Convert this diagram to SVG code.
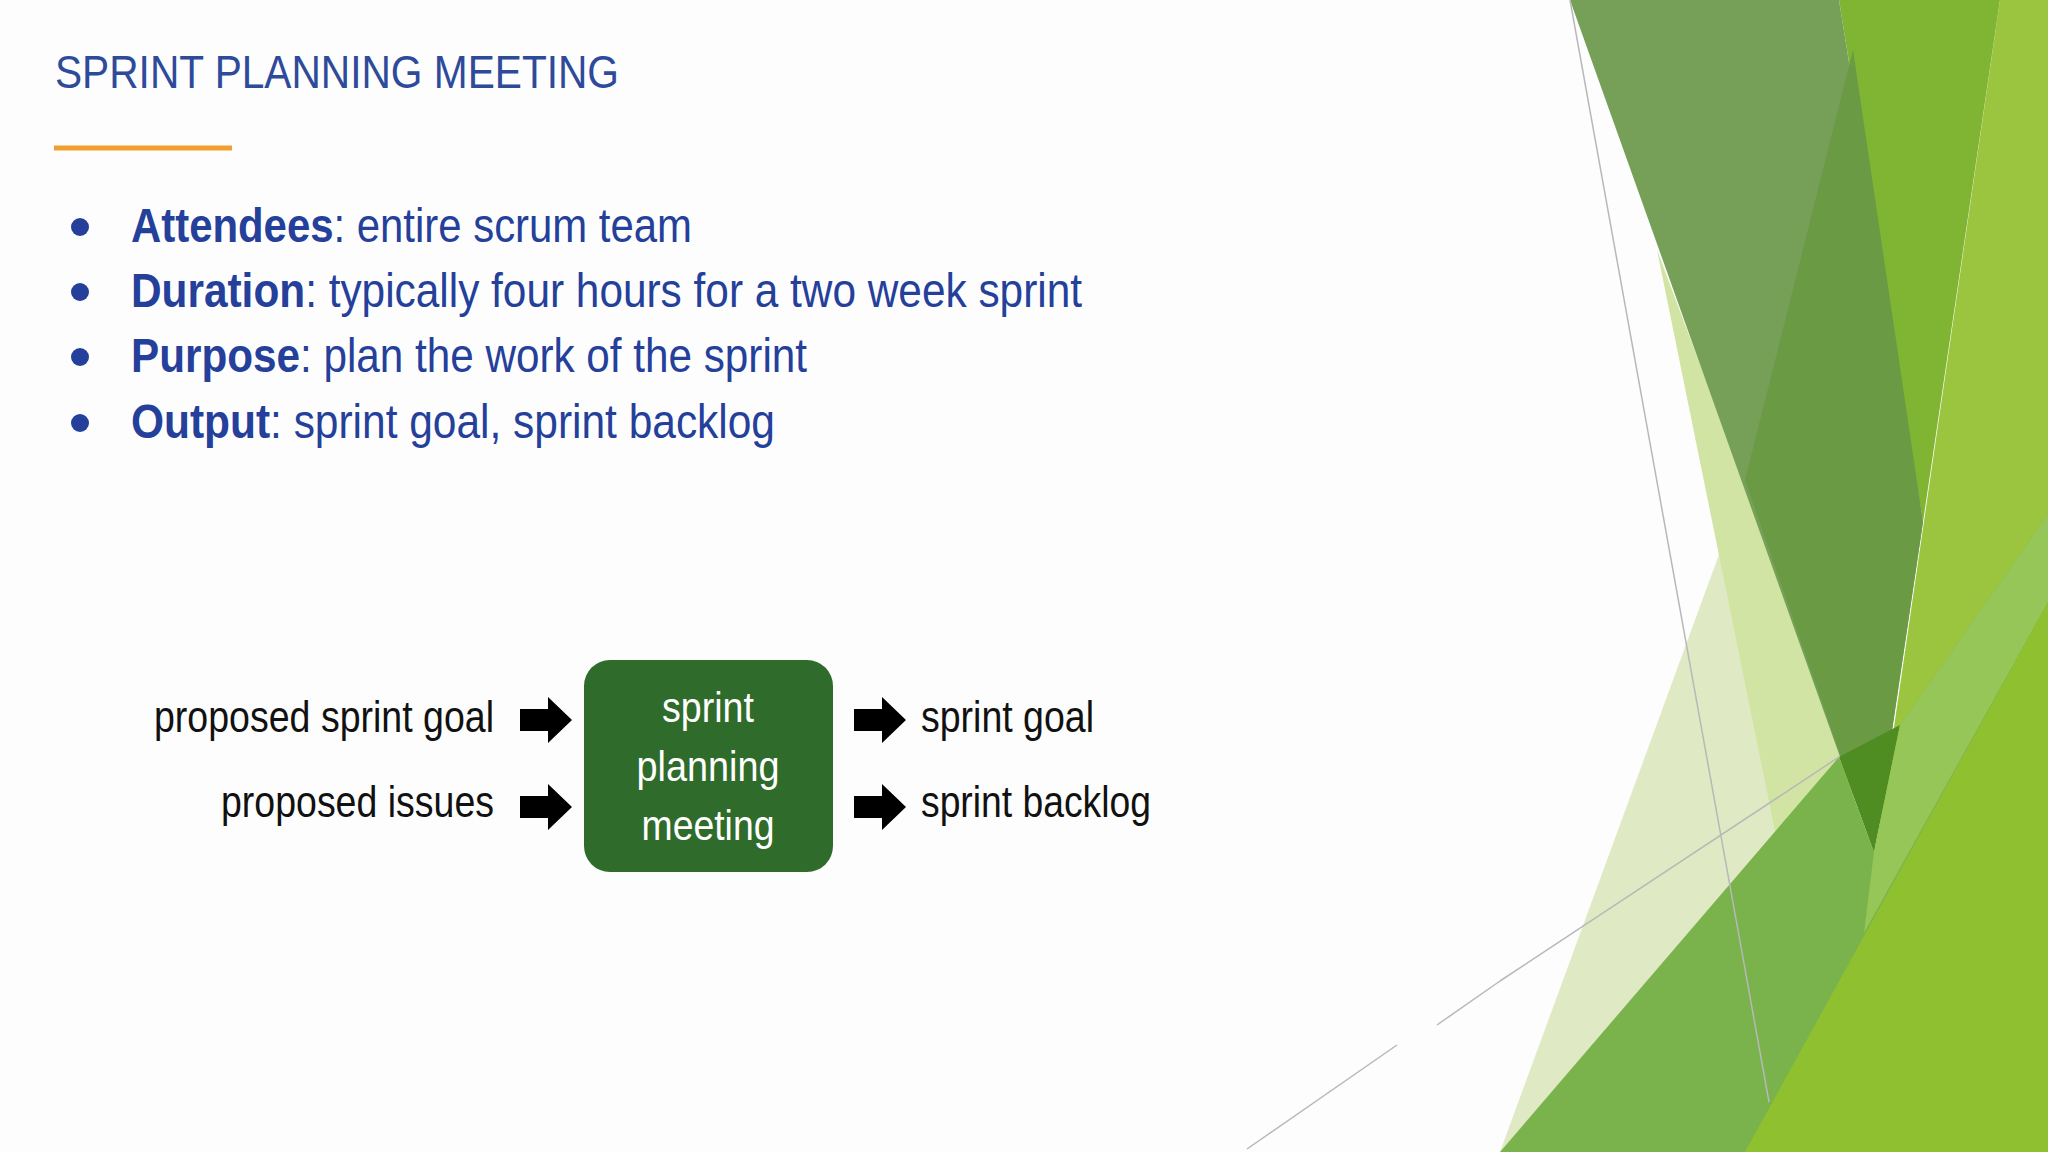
<svg xmlns="http://www.w3.org/2000/svg" width="2048" height="1152" viewBox="0 0 2048 1152">
<defs>
<style>
.t{font-family:"Liberation Sans",Arial,sans-serif}
.b{fill:#24409a;font-size:48px}
.d{fill:#111;font-size:44px}
.w{fill:#fff;font-size:42px}
.gl{stroke:#b8b8b8;stroke-width:1.5;fill:none}
</style>
<path id="arr" d="M0,-11 H28 V-23 L52,0 L28,23 V11 H0 Z" fill="#000"/>
</defs>
<rect width="2048" height="1152" fill="#fdfdfd"/>
<g id="decor">
<polygon points="2000,0 2048,0 2048,1152 1840,1152 1864,933" fill="#9bc53f"/>
<polygon points="1839,0 2000,0 1923,522" fill="#80b433"/>
<polygon points="1750,470 1850,770 1566,1090 1500,1152" fill="#dfeac4"/>
<polygon points="1657,250 1776,836 1860,790" fill="#d1e4a3"/>
<polygon points="1570,0 1839,0 1923,522 1874,852" fill="#76a058"/>
<polygon points="1853,50 1923,522 1874,852 1745,480" fill="#6a9a44"/>
<polygon points="1839,757 1900,725 1874,852" fill="#4f8c22"/>
<polygon points="1500,1152 1839,757 1874,852 1900,725 2048,514 2048,1152" fill="#7ab34c"/>
<polygon points="1874,852 1900,725 2048,514 2048,602 1864,933" fill="#9ccb5a" opacity="0.8"/>
<polygon points="1745,1152 2048,602 2048,1152" fill="#8fc030"/>
<line class="gl" x1="1570" y1="0" x2="1769" y2="1102"/>
<line class="gl" x1="1500" y1="981" x2="1839" y2="757"/>
<line class="gl" x1="1437" y1="1025" x2="1500" y2="981"/>
<line class="gl" x1="1247" y1="1149" x2="1397" y2="1045"/>
</g>
<g id="title">
<text class="t" x="55" y="88" font-size="46" fill="#2e4a9a" textLength="564" lengthAdjust="spacingAndGlyphs">SPRINT PLANNING MEETING</text>
<line x1="54" y1="148" x2="232" y2="148" stroke="#f0a030" stroke-width="5"/>
</g>
<g id="bullets">
<circle cx="80" cy="227" r="9" fill="#24409a"/>
<circle cx="80" cy="292" r="9" fill="#24409a"/>
<circle cx="80" cy="357" r="9" fill="#24409a"/>
<circle cx="80" cy="423" r="9" fill="#24409a"/>
<text class="t b" x="131" y="242" textLength="561" lengthAdjust="spacingAndGlyphs"><tspan font-weight="bold">Attendees</tspan>: entire scrum team</text>
<text class="t b" x="131" y="307" textLength="951" lengthAdjust="spacingAndGlyphs"><tspan font-weight="bold">Duration</tspan>: typically four hours for a two week sprint</text>
<text class="t b" x="131" y="372" textLength="676" lengthAdjust="spacingAndGlyphs"><tspan font-weight="bold">Purpose</tspan>: plan the work of the sprint</text>
<text class="t b" x="131" y="438" textLength="644" lengthAdjust="spacingAndGlyphs"><tspan font-weight="bold">Output</tspan>: sprint goal, sprint backlog</text>
</g>
<g id="in1"><text class="t d" x="494" y="732" text-anchor="end" textLength="340" lengthAdjust="spacingAndGlyphs">proposed sprint goal</text></g>
<g id="in2"><text class="t d" x="494" y="817" text-anchor="end" textLength="273" lengthAdjust="spacingAndGlyphs">proposed issues</text></g>
<g id="meeting">
<rect x="584" y="660" width="249" height="212" rx="26" fill="#2f6b2b"/>
<text class="t w" x="708" y="722" text-anchor="middle" textLength="92" lengthAdjust="spacingAndGlyphs">sprint</text>
<text class="t w" x="708" y="781" text-anchor="middle" textLength="143" lengthAdjust="spacingAndGlyphs">planning</text>
<text class="t w" x="708" y="840" text-anchor="middle" textLength="133" lengthAdjust="spacingAndGlyphs">meeting</text>
</g>
<g id="out1"><text class="t d" x="921" y="732" textLength="173" lengthAdjust="spacingAndGlyphs">sprint goal</text></g>
<g id="out2"><text class="t d" x="921" y="817" textLength="230" lengthAdjust="spacingAndGlyphs">sprint backlog</text></g>
<g id="connectors">
<use href="#arr" x="520" y="720"/>
<use href="#arr" x="520" y="807"/>
<use href="#arr" x="854" y="720"/>
<use href="#arr" x="854" y="807"/>
</g>
</svg>
